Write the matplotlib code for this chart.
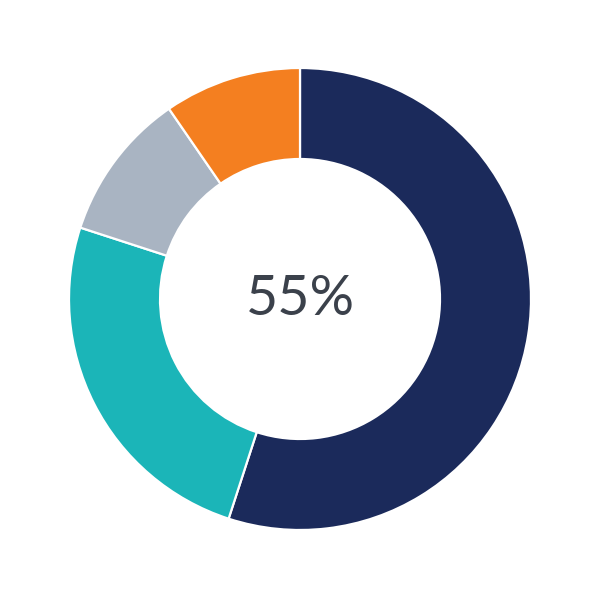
import matplotlib
matplotlib.use("Agg")
import matplotlib.pyplot as plt

labels = ["A", "B", "C", "D"]
values = [55, 25, 10.4, 9.6]
colors = ["#1b2a5b", "#1bb5b8", "#a9b4c2", "#f47f20"]
center_text = "55%"

fig = plt.figure(figsize=(6.0, 5.99), dpi=100)
ax = fig.add_axes([0, 0, 1, 1])
R = 231.0
ax.pie(values, colors=colors, startangle=90, counterclock=False,
       radius=1.0, wedgeprops=dict(width=1 - 140 / R, edgecolor="white", linewidth=1.6))
ax.set_xlim(-300 / R, 300 / R)
ax.set_ylim(-300 / R, 299 / R)
ax.set_aspect("equal")
ax.axis("off")
ax.text(0, 0.0, center_text, ha="center", va="center", fontsize=40,
        family=["Lato", "DejaVu Sans"], color="#3b414b")
fig.savefig("out.png", dpi=100, facecolor="white")
